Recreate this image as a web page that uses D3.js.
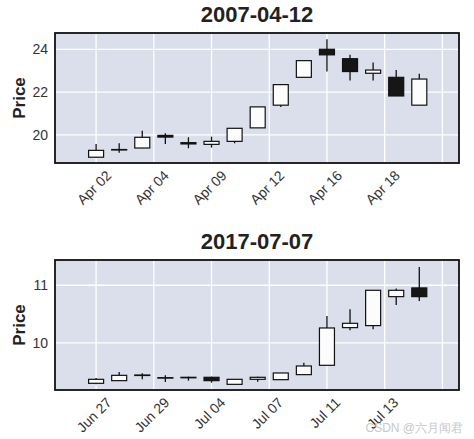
<!DOCTYPE html>
<html>
<head>
<meta charset="utf-8">
<script src="https://cdn.jsdelivr.net/npm/d3@7"></script>
<style>
  body { margin: 0; background: #fff; }
  text { font-family: "Liberation Sans", Arial, sans-serif; }
</style>
</head>
<body>
<div id="root"></div>
<script>
// panel 1: 2007
const dates1 = ['2007-04-02', '2007-04-03', '2007-04-04', '2007-04-05', '2007-04-06', '2007-04-09', '2007-04-10',
  '2007-04-11', '2007-04-12', '2007-04-13', '2007-04-16', '2007-04-17', '2007-04-18', '2007-04-19', '2007-04-20']
const open1 = [18.96, 19.32, 19.39, 19.98, 19.64, 19.56, 19.70, 20.33, 21.39, 22.69, 24.00, 23.56, 22.88, 22.69, 21.39]
const high1 = [19.58, 19.61, 20.19, 20.08, 19.89, 19.92, 20.31, 21.31, 22.35, 23.47, 24.47, 23.74, 23.38, 23.03, 22.86]
const low1 = [18.94, 19.17, 19.38, 19.58, 19.38, 19.41, 19.61, 20.33, 21.31, 22.69, 22.96, 22.54, 22.54, 21.82, 21.39]
const close1 = [19.28, 19.30, 19.89, 19.90, 19.58, 19.70, 20.31, 21.31, 22.35, 23.47, 23.74, 22.96, 23.03, 21.82, 22.61]
const ticks1 = ['Apr 02', 'Apr 04', 'Apr 09', 'Apr 12', 'Apr 16', 'Apr 18', '']
const yTicks1 = [20, 22, 24]

// panel 2: 2017
const dates2 = ['2017-06-27', '2017-06-28', '2017-06-29', '2017-06-30', '2017-07-03', '2017-07-04', '2017-07-05',
  '2017-07-06', '2017-07-07', '2017-07-10', '2017-07-11', '2017-07-12', '2017-07-13', '2017-07-14', '2017-07-17']
const open2 = [9.301, 9.347, 9.445, 9.399, 9.405, 9.405, 9.283, 9.370, 9.364, 9.451, 9.613, 10.266, 10.301, 10.803, 10.954]
const high2 = [9.393, 9.497, 9.474, 9.439, 9.416, 9.416, 9.375, 9.416, 9.480, 9.659, 10.468, 10.584, 10.913, 10.942, 11.318]
const low2 = [9.283, 9.347, 9.370, 9.324, 9.347, 9.312, 9.283, 9.330, 9.364, 9.451, 9.613, 10.220, 10.237, 10.659, 10.728]
const close2 = [9.370, 9.439, 9.445, 9.399, 9.401, 9.347, 9.370, 9.405, 9.480, 9.601, 10.260, 10.341, 10.913, 10.913, 10.803]
const ticks2 = ['Jun 27', 'Jun 29', 'Jul 04', 'Jul 07', 'Jul 11', 'Jul 13', '']
const yTicks2 = [10, 11]

const tickIndex = [0, 2.5, 5, 7.5, 10, 12.5, 15]

const w = 474
const h = 439

const svg = d3.select('#root')
  .append('svg')
  .attr('width', w)
  .attr('height', h)

function drawPanel(cfg) {
  const left = 55, right = 459
  const top = cfg.top, bottom = cfg.top + 130

  const data = cfg.dates.map((d, i) => ({
    i: i, date: d, open: cfg.open[i], high: cfg.high[i], low: cfg.low[i], close: cfg.close[i]
  }))

  const xScale = d3.scaleLinear()
    .domain([-1.78, 15.72])
    .range([left, right])

  const yScale = d3.scaleLinear()
    .domain(cfg.yDomain)
    .range([bottom, top])

  const g = svg.append('g')

  g.append('rect')
    .attr('x', left).attr('y', top)
    .attr('width', right - left).attr('height', bottom - top)
    .attr('fill', '#dadfeb')

  // grid
  g.selectAll('.vgrid')
    .data(tickIndex)
    .enter()
    .append('line')
      .attr('x1', d => xScale(d)).attr('x2', d => xScale(d))
      .attr('y1', top).attr('y2', bottom)
      .attr('stroke', '#fff').attr('stroke-width', 1.3)

  g.selectAll('.hgrid')
    .data(cfg.yTicks)
    .enter()
    .append('line')
      .attr('x1', left).attr('x2', right)
      .attr('y1', d => yScale(d)).attr('y2', d => yScale(d))
      .attr('stroke', '#fff').attr('stroke-width', 1.3)

  const bw = (xScale(1) - xScale(0)) * 0.65

  // wicks
  g.selectAll('.wick')
    .data(data)
    .enter()
    .append('line')
      .attr('x1', d => xScale(d.i)).attr('x2', d => xScale(d.i))
      .attr('y1', d => yScale(d.high)).attr('y2', d => yScale(d.low))
      .attr('stroke', '#111').attr('stroke-width', 1.3)

  // bodies
  g.selectAll('.body')
    .data(data)
    .enter()
    .append('rect')
      .attr('x', d => xScale(d.i) - bw / 2)
      .attr('y', d => yScale(Math.max(d.open, d.close)))
      .attr('width', bw)
      .attr('height', d => Math.max(0.5, Math.abs(yScale(d.open) - yScale(d.close))))
      .attr('fill', d => d.close >= d.open ? '#fcfcfc' : '#161616')
      .attr('stroke', '#111')
      .attr('stroke-width', 1.2)

  // frame
  g.append('rect')
    .attr('x', left).attr('y', top)
    .attr('width', right - left).attr('height', bottom - top)
    .attr('fill', 'none')
    .attr('stroke', '#111')
    .attr('stroke-width', 1.8)

  // y tick labels
  g.selectAll('.ylab')
    .data(cfg.yTicks)
    .enter()
    .append('text')
      .attr('x', left - 7)
      .attr('y', d => yScale(d))
      .attr('dy', '0.35em')
      .attr('text-anchor', 'end')
      .attr('font-size', 14)
      .attr('fill', '#333')
      .text(d => d)

  // x tick labels, rotated 45 and centred on the tick
  g.selectAll('.xlab')
    .data(tickIndex)
    .enter()
    .append('text')
      .attr('text-anchor', 'middle')
      .attr('dy', '0.35em')
      .attr('font-size', 14)
      .attr('fill', '#333')
      .text((d, i) => cfg.ticks[i])
      .attr('transform', function(d) {
        const len = this.getComputedTextLength()
        const half = (len + 14) * 0.7071 / 2
        return 'translate(' + (xScale(d) - 2) + ',' + (bottom + 5 + half) + ') rotate(-45)'
      })

  svg.append('text')
    .attr('x', (left + right) / 2)
    .attr('y', top - 11)
    .attr('text-anchor', 'middle')
    .attr('font-size', 22)
    .attr('font-weight', 'bold')
    .attr('fill', '#222')
    .text(cfg.title)

  svg.append('text')
    .attr('transform', 'translate(25,' + ((top + bottom) / 2) + ') rotate(-90)')
    .attr('text-anchor', 'middle')
    .attr('font-size', 17)
    .attr('font-weight', 'bold')
    .attr('fill', '#222')
    .text('Price')
}

drawPanel({
  top: 33, title: '2007-04-12', dates: dates1,
  open: open1, high: high1, low: low1, close: close1,
  ticks: ticks1, yTicks: yTicks1, yDomain: [18.69, 24.76]
})

drawPanel({
  top: 260, title: '2017-07-07', dates: dates2,
  open: open2, high: high2, low: low2, close: close2,
  ticks: ticks2, yTicks: yTicks2, yDomain: [9.185, 11.438]
})

svg.append('text')
  .attr('x', 463)
  .attr('y', 432)
  .attr('text-anchor', 'end')
  .attr('font-size', 12)
  .attr('fill', '#c8c8c8')
  .text('CSDN @六月闻君')
</script>
</body>
</html>
